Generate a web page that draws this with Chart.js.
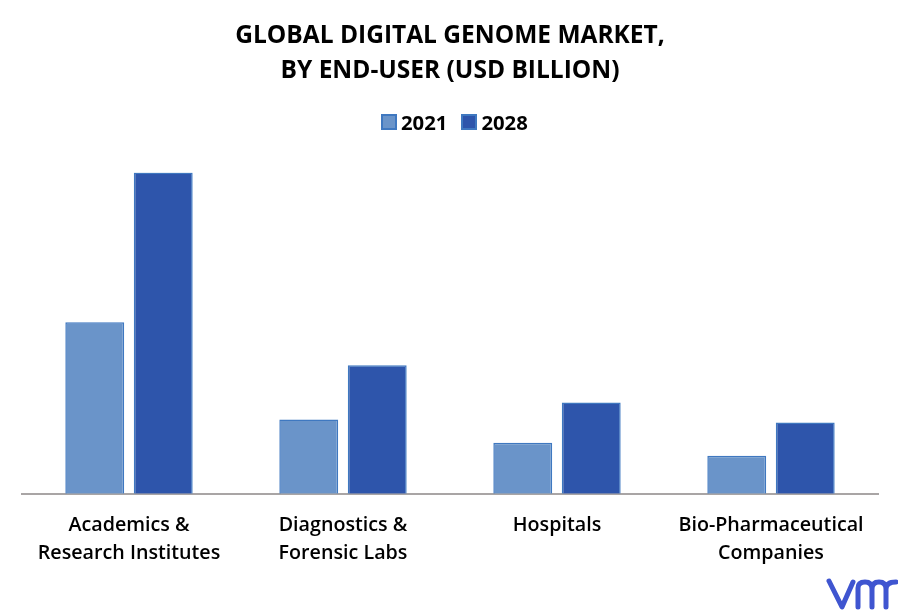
<!DOCTYPE html>
<html lang="en">
<head>
    <meta charset="UTF-8">
    <title>Global Digital Genome Market</title>
    <script src="https://cdn.jsdelivr.net/npm/chart.js"></script>
    <style>
        body { margin: 0; background: #fff; }
        #wrap { position: relative; width: 901px; height: 612px; }
        #logo { position: absolute; left: 826px; top: 576px; }
        #legend {
            position: absolute;
            left: 381px;
            top: 108px;
            display: flex;
            font: 700 20.3px/28px "Open Sans", sans-serif;
            color: #000;
        }
        .item { display: flex; align-items: center; margin-right: 14px; }
        .box { width: 12px; height: 12px; border: 2px solid #3f78c0; margin-right: 4px; }
    </style>
</head>
<body>
    <div id="wrap">
        <canvas id="chart" width="901" height="612"></canvas>
        <div id="legend"></div>
        <svg id="logo" width="72" height="36" viewBox="0 0 72 36">
            <path d="M3 5 L16 31 L27 6 M32 31 V12 Q32 6 39 6 Q46 6 46 13 V31 M46 13 Q46 6 53 6 Q60 6 60 13 V31 M60 13 Q60 6 70 6"
                  fill="none" stroke="#3f55d0" stroke-width="5" stroke-linecap="round" stroke-linejoin="round"/>
        </svg>
    </div>
    <script>
        const categories = [
            ['Academics &', 'Research Institutes'],
            ['Diagnostics &', 'Forensic Labs'],
            ['Hospitals'],
            ['Bio-Pharmaceutical', 'Companies']
        ];
        const values2021 = [1.71, 0.74, 0.51, 0.38];
        const values2028 = [3.20, 1.28, 0.91, 0.71];
        const titleLines = ['GLOBAL DIGITAL GENOME MARKET,', 'BY END-USER (USD BILLION)'];

        const fontName = '"Open Sans", sans-serif';

        const chart = new Chart(document.getElementById('chart'), {
            type: 'bar',
            data: {
                labels: categories,
                datasets: [
                    { label: '2021', data: values2021, backgroundColor: '#6a94c9', borderColor: '#3f78c0', borderWidth: 1.5 },
                    { label: '2028', data: values2028, backgroundColor: '#2e55ab', borderColor: '#3f78c0', borderWidth: 1.5 }
                ]
            },
            options: {
                responsive: false,
                animation: false,
                categoryPercentage: 0.64,
                barPercentage: 0.86,
                layout: { padding: { left: 22, right: 23, top: 0, bottom: 35 } },
                plugins: {
                    title: {
                        display: true,
                        text: titleLines,
                        color: '#000',
                        font: { family: fontName, size: 24.5, weight: '700', lineHeight: 1.42 },
                        padding: { top: 19, bottom: 84 }
                    },
                    legend: { display: false },
                    tooltip: { enabled: false }
                },
                scales: {
                    x: {
                        grid: { display: false },
                        border: { color: '#a9a5a5', width: 2 },
                        ticks: {
                            color: '#000',
                            maxRotation: 0,
                            padding: 9,
                            font: { family: fontName, size: 19.7, weight: '600', lineHeight: 1.45 }
                        }
                    },
                    y: { display: false, min: 0, max: 3.2 }
                }
            }
        });

        // legend as plain html, the gap between box and text is tighter than chart.js allows
        const legendEl = document.getElementById('legend');
        chart.data.datasets.forEach(ds => {
            const item = document.createElement('div');
            item.className = 'item';
            const box = document.createElement('span');
            box.className = 'box';
            box.style.backgroundColor = ds.backgroundColor;
            item.appendChild(box);
            item.appendChild(document.createTextNode(ds.label));
            legendEl.appendChild(item);
        });
    </script>
</body>
</html>
